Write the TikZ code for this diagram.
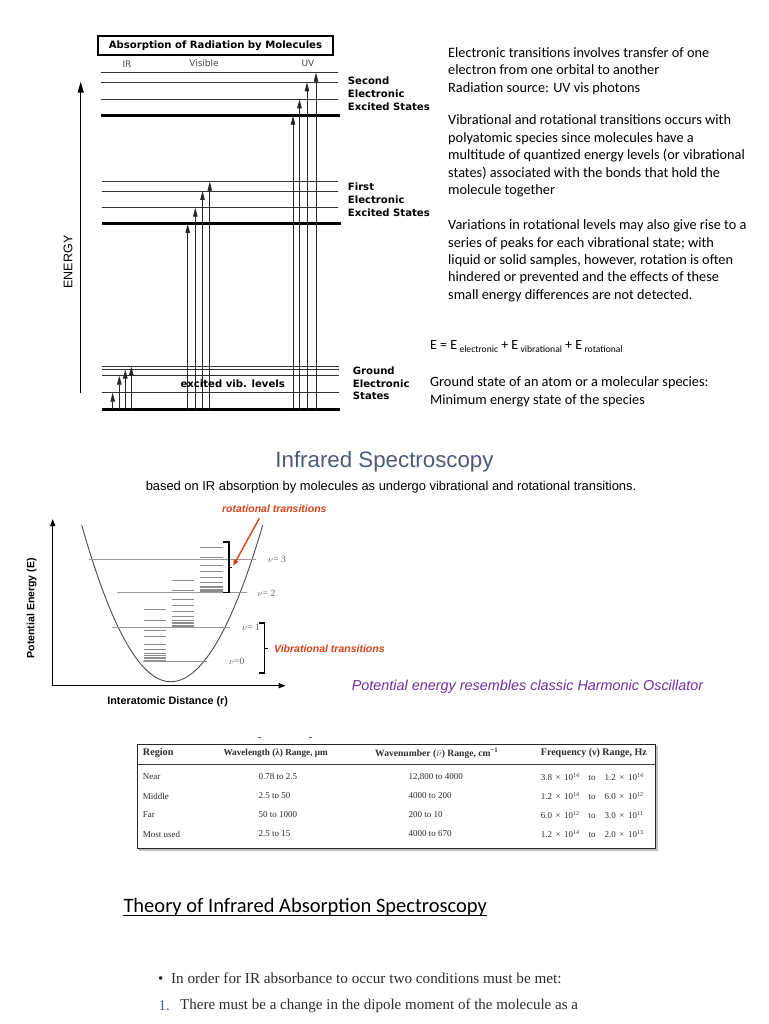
\documentclass[tikz,border=0pt]{standalone}
\usepackage{fontspec}
\setmainfont{Liberation Serif}
\newfontfamily\calfont{Carlito}
\newfontfamily\arialfont{Liberation Sans}
\newfontfamily\pixfont{DejaVu Sans}
\usetikzlibrary{arrows.meta}
\definecolor{titleblue}{RGB}{79,91,118}
\definecolor{redlab}{RGB}{214,66,26}
\definecolor{purp}{RGB}{112,48,160}
\definecolor{numblue}{RGB}{85,100,130}
\definecolor{tgray}{RGB}{45,45,45}
\begin{document}
\begin{tikzpicture}[x=1pt,y=-1pt,
  lvl/.style={line width=0.8pt,draw=black!80},
  thk/.style={line width=3pt,draw=black},
  uparr/.style={line width=0.8pt,draw=black!85,-{Triangle[width=4.5pt,length=9pt]}},
  pix/.style={font=\pixfont\bfseries\fontsize{10.1}{12}\selectfont,inner sep=0,anchor=west},
  pixr/.style={font=\pixfont\fontsize{9}{11}\selectfont,text=black!70,inner sep=0},
  rtxt/.style={font=\calfont\fontsize{14.3}{17}\selectfont,anchor=west,inner sep=0,text height=10pt,text depth=3.5pt},
  vib/.style={line width=0.8pt,draw=black!40},
  rot/.style={line width=0.7pt,draw=black!45},
  brk/.style={line width=1.6pt,draw=black},
  nulab/.style={font=\fontsize{9.5}{10}\selectfont,text=black!65,inner sep=0,anchor=west},
  redtxt/.style={font=\arialfont\bfseries\itshape\fontsize{10.5}{12}\selectfont,text=redlab,inner sep=0},
  tb/.style={font=\fontsize{9}{10}\selectfont,text=tgray,inner sep=0,anchor=west},
  tbh/.style={font=\bfseries\fontsize{9.6}{11}\selectfont,text=tgray,inner sep=0,anchor=west}
]
\useasboundingbox (0,0) rectangle (768,1024);
\fill[white] (0,0) rectangle (768,1024);

% ---------------- Top energy level diagram ----------------
\node[draw=black,line width=1.2pt,minimum width=235pt,minimum height=19pt,inner sep=0,
      font=\pixfont\bfseries\fontsize{10.1}{12}\selectfont] (ttl) at (215.5,45.5) {Absorption of Radiation by Molecules};
\node[pixr] (ir) at (127,64) {IR};
\node[pixr] (vis) at (204,63) {Visible};
\node[pixr] (uv) at (308,63) {UV};

% second excited
\draw[lvl] (101,72.7) -- (338,72.7);
\draw[lvl] (101,82.3) -- (338,82.3);
\draw[lvl] (101,99.3) -- (338,99.3);
\draw[thk] (101,115.7) -- (340,115.7);
% first excited
\draw[lvl] (102,181.7) -- (338,181.7);
\draw[lvl] (102,191) -- (338,191);
\draw[lvl] (102,207.7) -- (338,207.7);
\draw[thk] (102,224) -- (340.7,224);
% ground
\draw[lvl] (102,366.5) -- (339,366.5);
\draw[lvl] (102,369.5) -- (339,369.5);
\draw[lvl] (102,375.7) -- (339,375.7);
\draw[lvl] (102,392.7) -- (339,392.7);
\draw[thk] (102,409.3) -- (340,409.3);

\foreach \xx/\tt in {112.7/392.7,119.3/375.7,125.3/369.5,131.3/366.5,
  187.7/224,195.3/207.7,202.5/191,209.8/181.7,
  293/115.7,299.5/99.3,307/82.3,316/72.7}
  \draw[uparr] (\xx,409.3) -- (\xx,\tt);

% energy axis
\draw[line width=1.3pt,-{Triangle[width=6pt,length=11pt]}] (80.7,393.3) -- (80.7,81.7);
\node[font=\arialfont\fontsize{12.5}{14}\selectfont,rotate=90,inner sep=0] (energy) at (68,262) {ENERGY};

\node[pix] (l1) at (347.7,81) {Second};
\node[pix] (l2) at (347.7,93.7) {Electronic};
\node[pix] (l3) at (347.7,106.7) {Excited States};
\node[pix] (l4) at (347.7,186.7) {First};
\node[pix] (l5) at (347.7,199.7) {Electronic};
\node[pix] (l6) at (347.7,212.7) {Excited States};
\node[pix] (l7) at (352.7,370.7) {Ground};
\node[pix] (l8) at (352.7,383.7) {Electronic};
\node[pix] (l9) at (352.7,396) {States};
\node[pix,anchor=center] (evl) at (232.7,383.3) {excited vib. levels};

% ---------------- Right text ----------------
\node[rtxt] (a1) at (448,54.5) {Electronic transitions involves transfer of one};
\node[rtxt] (a2) at (448,71.7) {electron from one orbital to another};
\node[rtxt] (a3) at (448,88.9) {Radiation source: UV vis photons};
\node[rtxt] (b1) at (448,121.7) {Vibrational and rotational transitions occurs with};
\node[rtxt] (b2) at (448,139) {polyatomic species since molecules have a};
\node[rtxt] (b3) at (448,156.5) {multitude of quantized energy levels (or vibrational};
\node[rtxt] (b4) at (448,174) {states) associated with the bonds that hold the};
\node[rtxt] (b5) at (448,191.5) {molecule together};
\node[rtxt] (c1) at (448,226.7) {Variations in rotational levels may also give rise to a};
\node[rtxt] (c2) at (448,244) {series of peaks for each vibrational state; with};
\node[rtxt] (c3) at (448,261.5) {liquid or solid samples, however, rotation is often};
\node[rtxt] (c4) at (448,278.7) {hindered or prevented and the effects of these};
\node[rtxt] (c5) at (448,296) {small energy differences are not detected.};
\node[rtxt,font=\calfont\fontsize{14}{15}\selectfont] (eq) at (430,346.7)
  {E = E\,\raisebox{-2.5pt}{\fontsize{9.6}{10}\selectfont electronic} + E\,\raisebox{-2.5pt}{\fontsize{9.6}{10}\selectfont vibrational} + E\,\raisebox{-2.5pt}{\fontsize{9.6}{10}\selectfont rotational}};
\node[rtxt] (g1) at (430,383.3) {Ground state of an atom or a molecular species:};
\node[rtxt] (g2) at (430,401) {Minimum energy state of the species};

% ---------------- Infrared Spectroscopy ----------------
\node[font=\arialfont\fontsize{22.3}{25}\selectfont,text=titleblue,inner sep=0] (irs) at (384.5,462) {Infrared Spectroscopy};
\node[font=\arialfont\fontsize{12.9}{14}\selectfont,inner sep=0] (sub) at (391,487)
  {based on IR absorption by molecules as undergo vibrational and rotational transitions.};

% potential well
\draw[line width=1.2pt,-{Triangle[width=5pt,length=7pt]}] (52.7,685.7) -- (52.7,519);
\draw[line width=1.2pt,-{Triangle[width=5pt,length=7pt]}] (52.7,685.7) -- (285.7,685.7);
\node[font=\arialfont\bfseries\fontsize{10.5}{12}\selectfont,rotate=90,inner sep=0] (ylab) at (31.7,608.3) {Potential Energy (E)};
\node[font=\arialfont\bfseries\fontsize{10.8}{12}\selectfont,inner sep=0] (xlab) at (167.7,701.7) {Interatomic Distance (r)};

\draw[line width=0.9pt,draw=black!70] plot[domain=81.7:170.7,samples=60,smooth] (\x,{681.7-0.01978*(\x-170.7)^2});
\draw[line width=0.9pt,draw=black!70] plot[domain=170.7:262.7,samples=60,smooth] (\x,{681.7-0.0185*(\x-170.7)^2});

\draw[vib] (89,559.3) -- (256,559.3);
\draw[vib] (116.7,592.7) -- (246.7,592.7);
\draw[vib] (112,627.7) -- (230,627.7);
\draw[vib] (143,661.7) -- (206.7,661.7);

% rotational stacks
\foreach \xa/\xb/\base/\sc in {144/165.7/661.7/1, 171.7/194/627.7/0.905, 200/222.7/592.7/0.854}{
  \foreach \dd in {52.7,41.7,31.7,25,17.7,12.4,8,6,4.5,3,1.5}
    \draw[rot] (\xa,{\base-\sc*\dd}) -- (\xb,{\base-\sc*\dd});
}

\node[nulab] (v3) at (268,559.3) {$\nu$= 3};
\node[nulab] (v2) at (257.5,593.5) {$\nu$= 2};
\node[nulab] (v1) at (242,627.5) {$\nu$= 1};
\node[nulab] (v0) at (229,661.5) {$\nu$=0};

% rotational bracket
\draw[brk] (223.3,541.7) -- (228.7,541.7) -- (228.7,592.3) -- (223.3,592.3);
\draw[brk] (228.7,567.3) -- (232,567.3);
\coordinate (rb) at (233.3,565.7);
\node[redtxt] (rotl) at (274.3,508.3) {rotational transitions};
\coordinate (ra) at (259.3,518.3);
\draw[line width=1.4pt,draw=redlab,-{Triangle[width=5pt,length=6pt]}] (ra) -- (rb);

% vibrational bracket
\draw[brk] (259.3,622.7) -- (264.3,622.7) -- (264.3,672.7) -- (259.3,672.7);
\draw[brk] (264.3,648.3) -- (268,648.3);
\node[redtxt,anchor=west] (vibl) at (274,648.3) {Vibrational transitions};

\node[font=\arialfont\itshape\fontsize{14.4}{16}\selectfont,text=purp,inner sep=0] (pe) at (527.5,687)
  {Potential energy resembles classic Harmonic Oscillator};

% ---------------- Table ----------------
\draw[line width=0.6pt,draw=black!60] (258,737.7) -- (261,737.7);
\draw[line width=0.6pt,draw=black!60] (309,737.7) -- (312,737.7);
\draw[line width=2pt,draw=black!25] (139,850) -- (657,850) -- (657,746);
\draw[line width=1pt,draw=black!85] (137,744) rectangle (655,848);
\draw[line width=0.6pt,draw=black!75] (137,764) -- (655,764);

\node[tbh,font=\bfseries\fontsize{10.2}{11}\selectfont] (h1) at (142.7,753.3) {Region};
\node[tbh,font=\bfseries\fontsize{9.2}{10}\selectfont] (h2) at (223.3,753.3) {Wavelength (λ) Range, μm};
\node[tbh] (h3) at (375,753.3) {Wavenumber ($\bar{\nu}$) Range, cm\textsuperscript{−1}};
\node[tbh,font=\bfseries\fontsize{10}{11}\selectfont] (h4) at (540.7,753.3) {Frequency (ν) Range, Hz};

\newcommand{\frq}[4]{#1\hspace{3.5pt}×\hspace{3.5pt}10\textsuperscript{#2}\hspace{9pt}to\hspace{9pt}#3\hspace{3.5pt}×\hspace{3.5pt}10\textsuperscript{#4}}
\node[tb] (r1a) at (142.7,777) {Near};
\node[tb] (r1b) at (258.3,777) {0.78 to 2.5};
\node[tb] (r1c) at (408.3,777) {12,800 to 4000};
\node[tb] (r1d) at (540.7,777) {\frq{3.8}{14}{1.2}{14}};
\node[tb] (r2a) at (142.7,796) {Middle};
\node[tb] (r2b) at (258.3,796) {2.5 to 50};
\node[tb] (r2c) at (408.3,796) {4000 to 200};
\node[tb] (r2d) at (540.7,796) {\frq{1.2}{14}{6.0}{12}};
\node[tb] (r3a) at (142.7,815) {Far};
\node[tb] (r3b) at (258.3,815) {50 to 1000};
\node[tb] (r3c) at (408.3,815) {200 to 10};
\node[tb] (r3d) at (540.7,815) {\frq{6.0}{12}{3.0}{11}};
\node[tb] (r4a) at (142.7,834) {Most used};
\node[tb] (r4b) at (258.3,834) {2.5 to 15};
\node[tb] (r4c) at (408.3,834) {4000 to 670};
\node[tb] (r4d) at (540.7,834) {\frq{1.2}{14}{2.0}{13}};

% ---------------- Bottom text ----------------
\node[font=\calfont\fontsize{20.5}{24}\selectfont,inner sep=0,anchor=west] (th) at (123.3,906.7) {Theory of Infrared Absorption Spectroscopy};
\draw[line width=0.9pt] ([yshift=-3pt]th.base west) -- ([yshift=-3pt]th.base east);

\node[font=\fontsize{15.2}{17}\selectfont,text=tgray,inner sep=0,anchor=west] (bul) at (158,978.3) {•~~In order for IR absorbance to occur two conditions must be met:};
\node[font=\fontsize{15}{17}\selectfont,text=numblue,inner sep=0,anchor=west] (n1) at (158.3,1005.7) {1.};
\node[font=\fontsize{15}{17}\selectfont,text=tgray,inner sep=0,anchor=west] (c1t) at (180,1005.7) {There must be a change in the dipole moment of the molecule as a};
\end{tikzpicture}
\end{document}
